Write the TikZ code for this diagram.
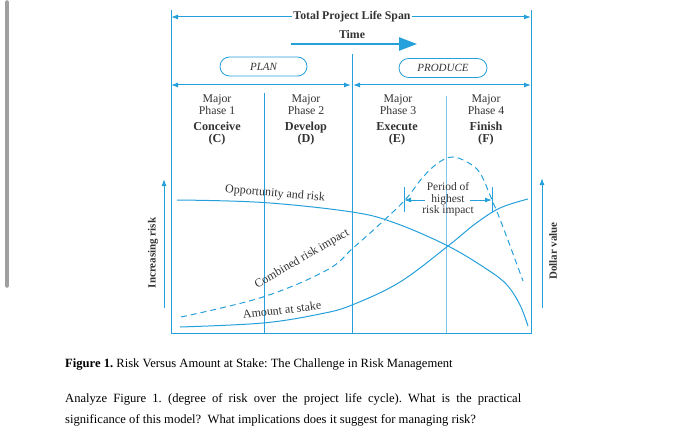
\documentclass[tikz,border=0pt]{standalone}
\usepackage{fontspec}
\setmainfont{Liberation Serif}
\usetikzlibrary{arrows.meta,shapes.misc}
\definecolor{riskblue}{RGB}{38,160,218}
\begin{document}
\frenchspacing
\begin{tikzpicture}[x=1pt, y=-1pt,
  every node/.style = {align=center, inner sep=1pt,
    text=black!80, font=\fontsize{12}{11.5}\selectfont},
  frame/.style = {draw=riskblue, line width=1pt},
  tip/.style = {-{Latex[length=7pt,width=5pt]}},
  both/.style = {{Latex[length=7pt,width=5pt]}-{Latex[length=7pt,width=5pt]}},
  stage/.style = {rounded rectangle, draw=riskblue, line width=0.8pt,
    minimum height=19pt, font=\itshape\fontsize{11}{12}\selectfont},
  phase/.style = {font=\fontsize{11.8}{11.5}\selectfont},
  verb/.style = {font=\bfseries\fontsize{12.2}{12}\selectfont},
  axis/.style = {rotate=90, font=\bfseries\fontsize{11}{12}\selectfont}]
\useasboundingbox (0,0) rectangle (700,441);
% scroll bar of the page
\draw[gray!75, line width=3.5pt, line cap=round] (7,2) -- (7,286);

% frame and dividers
\draw[frame] (171,10) -- (171,333) -- (531,333) -- (531,10);
\draw[frame] (352,54) -- (352,333);
\draw[frame] (264,93) -- (264,333);
\draw[frame, draw=riskblue!60] (446,96) -- (446,333);

% life span and time
\node[fill=white, font=\bfseries\fontsize{11.8}{12}\selectfont] (span) at (352,17) {Total Project Life Span};
\coordinate (spanL) at (171,17);
\coordinate (spanR) at (531,17);
\draw[frame, tip] (span) -- (spanL);
\draw[frame, tip] (span) -- (spanR);
\node[font=\bfseries\fontsize{11.8}{12}\selectfont] (time) at (352,34) {Time};
\coordinate (time0) at (291,44);
\coordinate (time1) at (417,44);
\draw[riskblue, line width=2.5pt, -{Triangle[length=18pt,width=13pt]}] (time0) -- (time1);

% plan and produce
\node[stage, minimum width=89pt] (plan) at (263.5,66.5) {PLAN};
\node[stage, minimum width=90pt] (produce) at (443,68) {PRODUCE};
\coordinate (planL) at (171,85);
\coordinate (planR) at (351,85);
\coordinate (prodL) at (353,85);
\coordinate (prodR) at (531,85);
\draw[frame, both] (planL) -- (planR);
\draw[frame, both] (prodL) -- (prodR);

% major phases
\node[phase] (ph1) at (217,104.5) {Major\\Phase 1};
\node[phase] (ph2) at (306,104.5) {Major\\Phase 2};
\node[phase] (ph3) at (398,104.5) {Major\\Phase 3};
\node[phase] (ph4) at (486,104.5) {Major\\Phase 4};
\node[verb] (conceive) at (217,134) {Conceive\\(C)};
\node[verb] (develop) at (306,134) {Develop\\(D)};
\node[verb] (execute) at (397,134) {Execute\\(E)};
\node[verb] (finish) at (486,134) {Finish\\(F)};

% axes
\coordinate (riskB) at (164,308);
\coordinate (riskT) at (164,179);
\draw[frame, tip] (riskB) -- (riskT);
\node[axis] (risk) at (153,253) {Increasing risk};
\coordinate (dollarB) at (542,308);
\coordinate (dollarT) at (542,178);
\draw[frame, tip] (dollarB) -- (dollarT);
\node[axis] (dollar) at (553,251) {Dollar value};

% curves
\draw[frame] plot[smooth, tension=0.6] coordinates {(177,200) (263,202.5) (352,212) (395,223) (448,246) (488,270) (507,285) (520,305) (528,326)};
\draw[frame] plot[smooth, tension=0.6] coordinates {(180,327) (263,323) (320,314) (352,305) (400,282) (448,246) (475,224) (500,208) (528,199)};
\draw[frame, dashed, dash pattern=on 6pt off 4pt] plot[smooth, tension=0.6] coordinates {(181,317) (263,297) (327,270) (353,248) (380,224) (405,200) (423,177) (438,163) (452,157) (467,162) (480,173) (492,200) (503,227) (523,281)};
\node[rotate=-5] (opp) at (275,194) {Opportunity and risk};
\node[rotate=7] (stake) at (282,310) {Amount at stake};
\node[rotate=30] (combined) at (302,259) {Combined risk impact};

% period of highest risk impact
\node[font=\fontsize{11.5}{11.5}\selectfont] (period) at (448,199.5) {Period of\\highest\\risk impact};
\coordinate (perL) at (404,200);
\coordinate (perR) at (492,200);
\coordinate (perLs) at (425,200);
\coordinate (perRs) at (470,200);
\draw[frame] (404,187) -- (404,212);
\draw[frame] (492,187) -- (492,212);
\draw[frame, tip] (perLs) -- (perL);
\draw[frame, tip] (perRs) -- (perR);

% caption and question
\node[anchor=west, text=black, font=\fontsize{12.6}{14}\selectfont] (caption) at (64,365)
  {\textbf{Figure 1.} Risk Versus Amount at Stake: The Challenge in Risk Management};
\node[anchor=north west, text=black, text width=456pt, align=justify, inner sep=0pt,
  font=\fontsize{12.6}{21}\selectfont] (question) at (65,393)
  {Analyze Figure 1. (degree of risk over the project life cycle). What is the practical\linebreak
   significance of this model?\ \ What implications does it suggest for managing risk?};
\end{tikzpicture}
\end{document}
